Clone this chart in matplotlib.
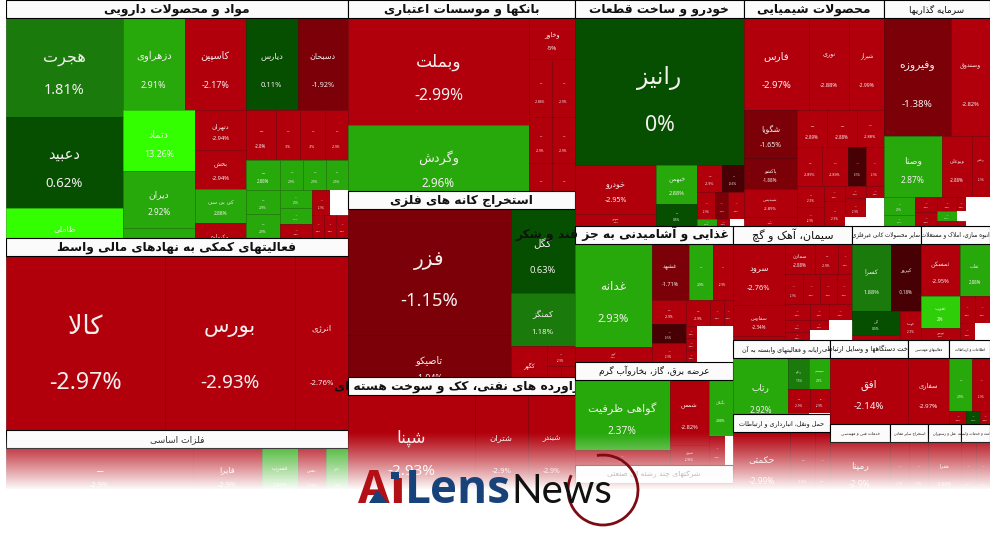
import numpy as np
import matplotlib
matplotlib.use("Agg")
import matplotlib.pyplot as plt
from matplotlib.patches import Rectangle, Arc, Polygon
from matplotlib.colors import ListedColormap, BoundaryNorm, to_rgb

# ---------- data: sector names and frame sizes ----------
sector_names = [
    "مواد و محصولات دارویی", "فعالیتهای کمکی به نهادهای مالی واسط", "فلزات اساسی",
    "بانکها و موسسات اعتباری", "استخراج کانه های فلزی", "فراورده های نفتی، کک و سوخت هسته ای",
    "خودرو و ساخت قطعات", "محصولات شیمیایی", "سرمایه گذاریها",
    "محصولات غذایی و آشامیدنی به جز قند و شکر", "عرضه برق، گاز، بخاروآب گرم", "شرکتهای چند رشته ای صنعتی",
    "سیمان، آهک و گچ", "سایر محصولات کانی غیرفلزی", "انبوه سازی، املاک و مستغلات",
    "رایانه و فعالیتهای وابسته به آن", "حمل ونقل، انبارداری و ارتباطات",
    "ساخت دستگاهها و وسایل ارتباطی", "فعالیتهای مهندسی", "اطلاعات و ارتباطات",
    "خدمات فنی و مهندسی", "استخراج سایر معادن", "هتل و رستوران", "زراعت و خدمات وابسته",
]
sector_caps = [814, 657, 239, 434, 422, 279, 382, 316, 240, 215, 163, 55,
               136, 79, 79, 72, 83, 65, 35, 34, 46, 29, 25, 22]

# ---------- data: one block per sector; caps are nested, symbols and changes follow them in reading order ----------
drug_caps = [[116, 106, 58], [[57, 56, 48, 46], [[44, 41, 21.6], [20, 20, 17, 18],
             [[15, 12, 12.5, 11.5], [10.2, 6.9, 6.9, 6.6],
              [[8.2, 8.1, 6.8], [5.8, 5.1, 4.5, 6.4], [[4.5, 4.5], [2.8, 2.8, 2.7], 7.2]]]]]]
drug_symbols = ["هجرت", "دعبید", "ظاملی", "دزهراوی", "کاسپین", "دیارس", "دسبحان", "دتماد", "دیران", "ملک",
                "دتهران", "بحش", "کی بی سی", "مکیماوه"]
drug_changes = [1.81, 0.62, 4.37, 2.91, -2.17, 0.11, -1.92, 13.26, 2.92, 2.9, -2.94, -2.94, 2.88, -2.9,
                -2.8, -3, -3, -2.9, 2.88, 2.9, 2.9, 2.9, 2.9, 2.9, 2.9, 2.9, 2.9, -2.9, -2.9,
                -2.9, None, -2.9, -2.9, -2.9, -2.9]

fin_caps = [277, 226, 92]
fin_symbols = ["کالا", "بورس", "انرژی"]
fin_changes = [-2.97, -2.93, -2.76]

metal_caps = [130, 48, 25, 20, 15]
metal_symbols = ["", "فایرا", "فسرب", "بمس", "بکام"]
metal_changes = [-2.9, -2.9, 2.86, -2.9, 2.9]

bank_caps = [[194, 145], [19, [13.3, 13.3], [10.6, 10.6], [9.6, 9.6]]]
bank_symbols = ["وبملت", "وگردش", "وخاور"]
bank_changes = [-2.99, 2.96, -5, -2.86, -2.9, -2.9, -2.9, -2.87, -2.9]

mine_caps = [[205, 98], [54, 34, [17.6, [5.6, [4, 4.1]]]]]
mine_symbols = ["فزر", "تاصیکو", "کگل", "کمنگز", "کگهر"]
mine_changes = [-1.15, -1.94, 0.63, 1.18, -2.9, -2.9, -2.9, -2.9]

oil_caps = [132, 55, 49]
oil_symbols = ["شپنا", "شتران", "شبندر"]
oil_changes = [-2.93, -2.9, -2.9]

auto_caps = [[248, [[40, 10], [16, 9], [[6.8, 5.9], [4.9, 3.5, 4.3], [1.4, 0.9, 1.0]]]]]
auto_symbols = ["رانیز", "خودرو", "سهمی", "خبهمن"]
auto_changes = [0, -2.95, -2.9, 2.88, 0.5, -2.9, -0.6, -2.9, -1.5, -2.9, 2.9, -2.9, None]

chem_caps = [[[60, 37, 32], [[25.4, 16.4, 14.8, 4.8], [[11.1, 11.1, 10], [9.8, 10.1, 7, 7],
             [[5.7, 5.1], [3.2, 5.2], [[2.5, 2.2], [[4, 1.9], 5]]]]]]]
chem_symbols = ["فارس", "نوری", "شیراز", "شگویا", "پاکشو", "شپدیس"]
chem_changes = [-2.97, -2.88, -2.99, -1.65, -1.88, -2.89, -2.9, -2.89, -2.88, -2.88, -2.89, -2.89, -0.5, -2.9,
                -2.9, -2.9, -2.9, -2.9, -2.9, -2.9, -2.9, None, None]

inv_caps = [[[79, 46], [35.4, 18.3, 11], [[5.6, 3.4], [3.3, 3.1], [[2.8, 1.3], [2, 0.9], 1.45], 7]]]
inv_symbols = ["وفیروزه", "وصندوق", "وصنا", "وبوعلی", "وپخش"]
inv_changes = [-1.38, -2.82, 2.87, -2.88, -2.9, 2.9, 2.9, -2.9, -2.9, -2.9, -2.9, 2.9, None, -2.9, None]

food_caps = [[79, 11.5], [[20.7, 13.4, 11.2], [[8.2, 6.5, 6.5], [[6.2, 3.6, 2.3], [[1.3, 1.3, 1.3], 13]]]]]
food_symbols = ["غدانه", "کوپن", "غشهد"]
food_changes = [2.93, -2.9, -1.71, 2.9, -2.9, -2.9, -0.5, -2.9, -2.9, -2.9, -2.9, -2.9, -2.9, -2.9, None]

power_caps = [[66.5, 14.3], [25.4, 7.8], [13.4, [4.6, 2.4]]]
power_symbols = ["گواهی ظرفیت", "", "شمس", "شبرق", "بگیلان"]
power_changes = [2.37, -2.9, -2.82, -2.95, 2.88, -2.9, None]

multi_caps = [27]
multi_symbols = [""]
multi_changes = [-2.9]

cement_caps = [[31.7, 16, 2], [[9, 6.9, 4.2], [5.4, 5.1, 5.1, 4.5], [[4, 3, 2], [3, 1.9, 1.9], [3.7, 4.6]]]]
cement_symbols = ["سرود", "سفارس", "", "سمازن"]
cement_changes = [-2.76, -2.34, -2.9, -2.88, -2.9, -2.9, -2.9, -2.9, -2.9, -2.9,
                  -2.9, -2.9, -2.9, -2.9, -2.9, None, -2.9, None]

mineral_caps = [[[26, 20], [[11.5, 2.4], 6]]]
mineral_symbols = ["کسرا", "کپرور", "کی", "", "کهمدا"]
mineral_changes = [1.88, -0.18, 0.5, -2.9, -2.9]

house_caps = [[20.3, 12.5, 4.7], [15.6, [4, 4], [2.5, 2.6]]]
house_symbols = ["ثمسکن", "ثغرب", "ثهرسی", "ثغاب"]
house_changes = [-2.95, 2.0, -2.9, 2.88, -2.9, -2.9, -2.9, None]

soft_caps = [[30.8 + 8.8], [[6.6, 6.3], [5.1, 4.6], [3.8, 3.6]]]
soft_symbols = ["رتاب", "رتکو", "سیستم"]
soft_changes = [2.92, 1.5, 2.9, -2.9, -2.9, 2.9, None]

trans_caps = [39, 17, 10]
trans_symbols = ["حکمتی", "", ""]
trans_changes = [-2.99, -2.9, -2.9]

device_caps = [1]
device_symbols = ["افق"]
device_changes = [-2.14]

eng_caps = [1]
eng_symbols = ["سفاری"]
eng_changes = [-2.97]

info_caps = [[[12, 9.4], [2.2, 1.8, 1.3]]]
info_symbols = ["", ""]
info_changes = [2.9, -2.9, -2.9, 0.5, -2.9]

tech_caps = [1]
tech_symbols = ["رمپنا"]
tech_changes = [-2.9]

ore_caps = [1, 1]
ore_symbols = ["", ""]
ore_changes = [-2.9, -2.9]

hotel_caps = [1]
hotel_symbols = ["هفرا"]
hotel_changes = [-2.88]

farm_caps = [1, 1]
farm_symbols = ["", ""]
farm_changes = [-2.9, -2.9]

sector_blocks = [
    (drug_caps, drug_symbols, drug_changes), (fin_caps, fin_symbols, fin_changes),
    (metal_caps, metal_symbols, metal_changes), (bank_caps, bank_symbols, bank_changes),
    (mine_caps, mine_symbols, mine_changes), (oil_caps, oil_symbols, oil_changes),
    (auto_caps, auto_symbols, auto_changes), (chem_caps, chem_symbols, chem_changes),
    (inv_caps, inv_symbols, inv_changes), (food_caps, food_symbols, food_changes),
    (power_caps, power_symbols, power_changes), (multi_caps, multi_symbols, multi_changes),
    (cement_caps, cement_symbols, cement_changes), (mineral_caps, mineral_symbols, mineral_changes),
    (house_caps, house_symbols, house_changes), (soft_caps, soft_symbols, soft_changes),
    (trans_caps, trans_symbols, trans_changes), (device_caps, device_symbols, device_changes),
    (eng_caps, eng_symbols, eng_changes), (info_caps, info_symbols, info_changes),
    (tech_caps, tech_symbols, tech_changes), (ore_caps, ore_symbols, ore_changes),
    (hotel_caps, hotel_symbols, hotel_changes), (farm_caps, farm_symbols, farm_changes),
]

# ---------- layout and style (not data) ----------
# nesting of the sectors: level 0 splits left-to-right, next level top-to-bottom, and so on
sector_tree = [[0, 1, 2], [3, 4, 5],
               [[6, 7, 8], [[9, 10, 11], [[12, 13, 14], [[15, 16], [[17, 18, 19], [20, 21, 22, 23]]]]]]]
header_sizes = [8.8, 8.8, 6.6, 8.8, 8.8, 8.8, 8.8, 8.8, 6.4, 8.8, 6.4, 5.4, 8, 4.0, 4.0, 4.6, 4.6, 4.8, 2.6, 2.6, 3, 2.6, 2.6, 2.6]
bleeds = [20, 0, 0, 14, 18, 0, 0, 0, 0, 0, 0, 0, 0, 0, 0, 16, 0, 0, 0, 0, 0, 0, 0, 0]
HEADER_H = 18
ROOT = (6, 0, 984, 500)

bands = [-100, -2, -1, 0, 1, 2, 2.1, 3.5, 100]
band_colors = ["#b1000b", "#7c0007", "#470003", "#064f00", "#1a7a0b", "#2ecf08", "#27a80b", "#33ff00"]
cmap = ListedColormap(band_colors)
norm = BoundaryNorm(bands, cmap.N)

FORMS = {
    "ا": "\uFE8D\uFE8E", "آ": "\uFE81\uFE82", "أ": "\uFE83\uFE84", "إ": "\uFE87\uFE88",
    "د": "\uFEA9\uFEAA", "ذ": "\uFEAB\uFEAC", "ر": "\uFEAD\uFEAE", "ز": "\uFEAF\uFEB0",
    "ژ": "\uFB8A\uFB8B", "و": "\uFEED\uFEEE",
    "ب": "\uFE8F\uFE90\uFE91\uFE92", "پ": "\uFB56\uFB57\uFB58\uFB59", "ت": "\uFE95\uFE96\uFE97\uFE98",
    "ث": "\uFE99\uFE9A\uFE9B\uFE9C", "ج": "\uFE9D\uFE9E\uFE9F\uFEA0", "چ": "\uFB7A\uFB7B\uFB7C\uFB7D",
    "ح": "\uFEA1\uFEA2\uFEA3\uFEA4", "خ": "\uFEA5\uFEA6\uFEA7\uFEA8", "س": "\uFEB1\uFEB2\uFEB3\uFEB4",
    "ش": "\uFEB5\uFEB6\uFEB7\uFEB8", "ص": "\uFEB9\uFEBA\uFEBB\uFEBC", "ض": "\uFEBD\uFEBE\uFEBF\uFEC0",
    "ط": "\uFEC1\uFEC2\uFEC3\uFEC4", "ظ": "\uFEC5\uFEC6\uFEC7\uFEC8", "ع": "\uFEC9\uFECA\uFECB\uFECC",
    "غ": "\uFECD\uFECE\uFECF\uFED0", "ف": "\uFED1\uFED2\uFED3\uFED4", "ق": "\uFED5\uFED6\uFED7\uFED8",
    "ک": "\uFB8E\uFB8F\uFB90\uFB91", "گ": "\uFB92\uFB93\uFB94\uFB95", "ل": "\uFEDD\uFEDE\uFEDF\uFEE0",
    "م": "\uFEE1\uFEE2\uFEE3\uFEE4", "ن": "\uFEE5\uFEE6\uFEE7\uFEE8", "ه": "\uFEE9\uFEEA\uFEEB\uFEEC",
    "ی": "\uFBFC\uFBFD\uFBFE\uFBFF",
}


def shape(text):
    """Contextual forms and right-to-left order, as matplotlib does not shape Arabic script."""
    text = text.replace("لا", "\uFEFB").replace("لآ", "\uFEF5")
    out = []
    n = len(text)
    for i, ch in enumerate(text):
        if ch in ("\uFEFB", "\uFEF5"):
            prev = text[i - 1] if i else " "
            joined = prev in FORMS and len(FORMS[prev]) == 4
            out.append(chr(ord(ch) + 1) if joined else ch)
            continue
        if ch not in FORMS:
            out.append(ch)
            continue
        forms = FORMS[ch]
        prev = text[i - 1] if i else " "
        nxt = text[i + 1] if i + 1 < n else " "
        join_prev = prev in FORMS and len(FORMS[prev]) == 4
        join_next = len(forms) == 4 and (nxt in FORMS or nxt in ("\uFEFB", "\uFEF5"))
        if join_prev and join_next:
            out.append(forms[3])
        elif join_prev:
            out.append(forms[1])
        elif join_next:
            out.append(forms[2])
        else:
            out.append(forms[0])
    return "".join(reversed(out))


def weight(node):
    if isinstance(node, (list, tuple)):
        return sum(weight(c) for c in node)
    return node


def layout(node, x, y, w, h, horizontal, out):
    if not isinstance(node, (list, tuple)):
        out.append((x, y, w, h))
        return
    total = weight(node)
    pos = 0.0
    for child in node:
        frac = weight(child) / total
        if horizontal:
            layout(child, x + pos * w, y, frac * w, h, False, out)
        else:
            layout(child, x, y + pos * h, w, frac * h, True, out)
        pos += frac


def tree_weights(node):
    if isinstance(node, list):
        return [tree_weights(c) for c in node]
    return sector_caps[node]


def tree_order(node, out):
    if isinstance(node, list):
        for c in node:
            tree_order(c, out)
    else:
        out.append(node)


fig = plt.figure(figsize=(9.96, 5.60), dpi=100, facecolor="white")
ax = fig.add_axes([0, 0, 1, 1])
ax.set_xlim(0, 996)
ax.set_ylim(560, 0)
ax.axis("off")

frames_flat = []
layout(tree_weights(sector_tree), ROOT[0], ROOT[1], ROOT[2], ROOT[3], True, frames_flat)
order = []
tree_order(sector_tree, order)
frames = {s: f for s, f in zip(order, frames_flat)}

z = 1
for s, name in enumerate(sector_names):
    caps, symbols, changes = sector_blocks[s]
    fx, fy, fw, fh = frames[s]
    cells = []
    layout(caps, fx, fy + HEADER_H, fw, fh - HEADER_H + bleeds[s], True, cells)
    for i, (cx, cy, cw, ch) in enumerate(cells):
        change = changes[i]
        if change is None:
            ax.add_patch(Rectangle((cx, cy), cw, ch, fc="white", ec="none", zorder=z))
            continue
        col = cmap(norm(change))
        edge = tuple(0.72 * c for c in to_rgb(col))
        ax.add_patch(Rectangle((cx, cy), cw, ch, fc=col, ec=edge, lw=0.5, zorder=z))
        sym = symbols[i] if i < len(symbols) else ""
        size = float(np.clip(0.105 * min(cw, ch), 1.8, 18))
        pct = f"{change:g}%"
        if cw > 6 and ch > 6 and (sym or ch < 80):
            sym_text = shape(sym) if sym else "\u0640\u0640\u0640"
            ax.text(cx + cw / 2, cy + 0.41 * ch, sym_text, ha="center", va="center",
                    fontsize=size * 1.1, color="#f4f0f0", family="DejaVu Sans", zorder=z + 0.1)
            ax.text(cx + cw / 2, cy + 0.73 * ch, pct, ha="center", va="center",
                    fontsize=size, color="#f4f0f0", family="Noto Sans", zorder=z + 0.1)
    z += 1
    ax.add_patch(Rectangle((fx, fy), fw, HEADER_H, fc="#fbfbfb", ec="black", lw=0.8, zorder=z))
    ax.text(fx + fw / 2, fy + HEADER_H / 2, shape(name), ha="center", va="center", fontsize=header_sizes[s],
            color="#111111", family="DejaVu Sans", fontweight="bold" if header_sizes[s] > 8.5 else "normal",
            zorder=z + 0.1)
    z += 1

# side margins cover overflowing header text
ax.add_patch(Rectangle((990, 0), 6, 560, fc="white", ec="none", zorder=z))
ax.add_patch(Rectangle((0, 0), 6, 560, fc="white", ec="none", zorder=z))
z += 1

# white fade over the bottom of the chart
fade = np.ones((256, 1, 4))
fade[:, 0, 3] = np.linspace(0, 1, 256) ** 1.1
ax.imshow(fade, extent=(0, 996, 490, 432), aspect="auto", zorder=z, interpolation="bilinear")
ax.add_patch(Rectangle((0, 489), 996, 71, fc="white", ec="none", zorder=z))
ax.set_xlim(0, 996)
ax.set_ylim(560, 0)
z += 1

# logo
ax.add_patch(Arc((603, 490), 70, 70, theta1=-100, theta2=205, ec="#7d0b12", lw=2, zorder=z))
ax.text(358, 503, "A", fontsize=33, fontweight="bold", color="#b30f16", family="Open Sans",
        ha="left", va="baseline", zorder=z)
ax.add_patch(Polygon([(377, 490), (388, 503), (369, 503)], fc="#17427a", ec="none", zorder=z + 0.1))
ax.text(389, 503, "ı", fontsize=33, fontweight="bold", color="#b30f16", family="DejaVu Sans",
        ha="left", va="baseline", zorder=z)
ax.add_patch(Rectangle((391, 472), 8, 7, fc="#17427a", ec="none", zorder=z + 0.1))
ax.text(405, 503, "Lens", fontsize=33, fontweight="bold", color="#17427a", family="Open Sans",
        ha="left", va="baseline", zorder=z)
ax.text(511, 503, "News", fontsize=29, fontweight="normal", color="#111111", family="Lato",
        ha="left", va="baseline", zorder=z)

fig.savefig("out.png", dpi=100, facecolor="white")
